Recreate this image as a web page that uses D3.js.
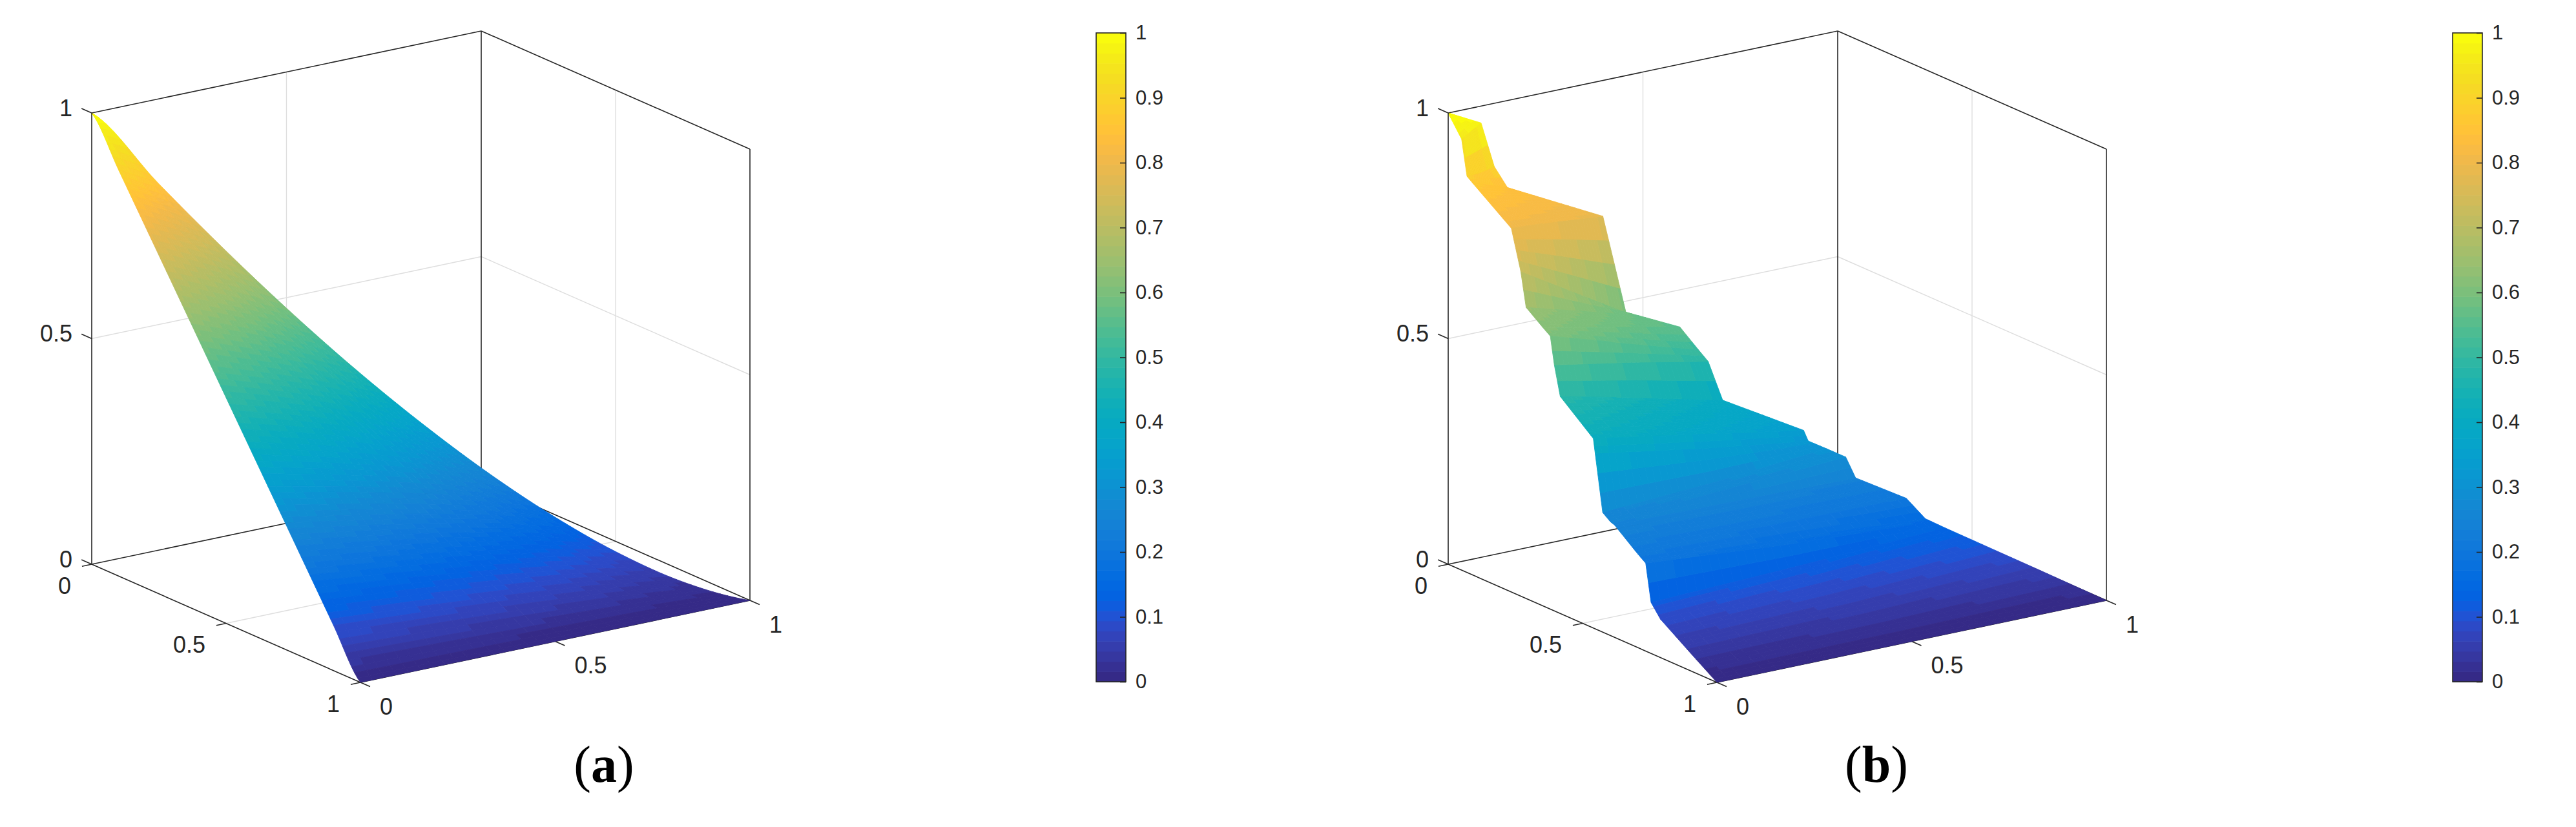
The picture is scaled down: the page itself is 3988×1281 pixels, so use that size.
<!DOCTYPE html>
<html><head><meta charset="utf-8">
<script src="https://cdn.jsdelivr.net/npm/d3@7"></script>
<style>html,body{margin:0;padding:0;background:#fff;} svg{display:block;}</style>
</head><body>
<svg id="chart" width="3988" height="1281"></svg>
<script>
// ---------------- data ----------------
const axisTicks = [0, 0.5, 1];
const colorbarTicks = [0, 0.1, 0.2, 0.3, 0.4, 0.5, 0.6, 0.7, 0.8, 0.9, 1];
const panelLetters = ["a", "b"];

// Panel (a): surface rows at y, columns at fraction s = x / y (domain x <= y)
const surfA_y = [0, 0.1, 0.2, 0.3, 0.4, 0.5, 0.6, 0.7, 0.8, 0.9, 1];
const surfA_s = [0, 0.25, 0.5, 0.75, 1];
const surfA_z = [
  [1.00, 1.00, 1.00, 1.00, 1.00],
  [0.90, 0.889, 0.877, 0.866, 0.854],
  [0.80, 0.780, 0.759, 0.738, 0.716],
  [0.70, 0.673, 0.645, 0.616, 0.586],
  [0.60, 0.569, 0.537, 0.502, 0.465],
  [0.50, 0.468, 0.433, 0.395, 0.354],
  [0.40, 0.369, 0.335, 0.297, 0.253],
  [0.30, 0.272, 0.242, 0.207, 0.164],
  [0.20, 0.179, 0.155, 0.126, 0.089],
  [0.10, 0.088, 0.074, 0.057, 0.032],
  [0, 0, 0, 0, 0]
];

// Panel (b): stepped surface, same layout
const surfB_y = [0, 0.05, 0.07, 0.09, 0.235, 0.27, 0.29, 0.352, 0.38, 0.395, 0.417, 0.54, 0.547,
                 0.575, 0.604, 0.619, 0.696, 0.725, 0.735, 0.755, 0.79, 0.9, 1];
const surfB_s = [0, 0.5, 1];
const surfB_z = [
  [1.00, 1.00, 1.00],
  [0.955, 0.97, 0.982],
  [0.878, 0.88, 0.887],
  [0.869, 0.855, 0.842],
  [0.806, 0.80, 0.79],
  [0.72, 0.65, 0.58],
  [0.645, 0.61, 0.574],
  [0.617, 0.585, 0.554],
  [0.605, 0.555, 0.506],
  [0.545, 0.515, 0.481],
  [0.481, 0.44, 0.397],
  [0.42, 0.38, 0.34],
  [0.389, 0.35, 0.317],
  [0.265, 0.28, 0.302],
  [0.252, 0.27, 0.286],
  [0.249, 0.245, 0.241],
  [0.212, 0.205, 0.202],
  [0.199, 0.18, 0.159],
  [0.195, 0.17, 0.153],
  [0.113, 0.125, 0.141],
  [0.085, 0.10, 0.121],
  [0.040, 0.045, 0.058],
  [0, 0, 0]
];

// parula colormap (64)
const parula = [
[0.2081,0.1663,0.5292],[0.2116,0.1898,0.5777],[0.2123,0.2138,0.6270],[0.2081,0.2386,0.6771],
[0.1959,0.2645,0.7279],[0.1707,0.2919,0.7792],[0.1253,0.3242,0.8303],[0.0591,0.3598,0.8683],
[0.0117,0.3875,0.8820],[0.0060,0.4086,0.8828],[0.0165,0.4266,0.8786],[0.0329,0.4430,0.8720],
[0.0498,0.4586,0.8641],[0.0629,0.4737,0.8554],[0.0723,0.4887,0.8467],[0.0779,0.5040,0.8384],
[0.0793,0.5200,0.8312],[0.0749,0.5375,0.8263],[0.0641,0.5570,0.8240],[0.0488,0.5772,0.8228],
[0.0343,0.5966,0.8199],[0.0265,0.6137,0.8135],[0.0239,0.6287,0.8038],[0.0231,0.6418,0.7913],
[0.0228,0.6535,0.7768],[0.0267,0.6642,0.7607],[0.0384,0.6743,0.7436],[0.0590,0.6838,0.7254],
[0.0843,0.6928,0.7062],[0.1133,0.7015,0.6859],[0.1453,0.7098,0.6646],[0.1801,0.7177,0.6424],
[0.2178,0.7250,0.6193],[0.2586,0.7317,0.5954],[0.3022,0.7376,0.5712],[0.3482,0.7424,0.5473],
[0.3953,0.7459,0.5244],[0.4420,0.7481,0.5033],[0.4871,0.7491,0.4840],[0.5300,0.7491,0.4661],
[0.5709,0.7485,0.4494],[0.6099,0.7473,0.4337],[0.6473,0.7456,0.4188],[0.6834,0.7435,0.4044],
[0.7184,0.7411,0.3905],[0.7525,0.7384,0.3768],[0.7858,0.7356,0.3633],[0.8185,0.7327,0.3498],
[0.8507,0.7299,0.3360],[0.8824,0.7274,0.3217],[0.9139,0.7258,0.3063],[0.9450,0.7261,0.2886],
[0.9739,0.7314,0.2666],[0.9938,0.7455,0.2403],[0.9990,0.7653,0.2164],[0.9955,0.7861,0.1967],
[0.9880,0.8066,0.1794],[0.9789,0.8271,0.1633],[0.9697,0.8481,0.1475],[0.9626,0.8705,0.1309],
[0.9589,0.8949,0.1132],[0.9598,0.9218,0.0948],[0.9661,0.9514,0.0755],[0.9763,0.9831,0.0538]
];

// ---------------- layout ----------------
const svg = d3.select("#chart");
const AX = "#262626", GRID = "#dedede";
const FONT = "'Liberation Sans', Arial, Helvetica, sans-serif";
const panelOffsets = [0, 2100];
const ORIGIN = [142, 874];
const EX = [603, -127], EY = [416, 183], EZ = [0, -699];
const LEN = 732.6, SIN_EL = 0.305, COS_EL = 0.952;

const xS = d3.scaleLinear().domain([0, 1]).range([0, 1]);
const yS = d3.scaleLinear().domain([0, 1]).range([0, 1]);
const zS = d3.scaleLinear().domain([0, 1]).range([0, 1]);
const colors = parula.map(c => d3.rgb(c[0]*255, c[1]*255, c[2]*255).formatHex());
const cScale = d3.scaleQuantize().domain([0, 1]).range(colors);

function proj(off, x, y, z) {
  const X = xS(x), Y = yS(y), Z = zS(z);
  return [ORIGIN[0] + off + X*EX[0] + Y*EY[0] + Z*EZ[0],
          ORIGIN[1] + X*EX[1] + Y*EY[1] + Z*EZ[1]];
}
function nearness(x, y, z) {
  const X = xS(x), Y = yS(y), Z = zS(z);
  return ((X*EX[1] + Y*EY[1]) / (LEN*SIN_EL)) * COS_EL + Z*SIN_EL;
}
const line = d3.line();

// Catmull-Rom between row values (render-time smoothing, passes through data)
function cr(p0, p1, p2, p3, u) {
  return 0.5 * (2*p1 + (-p0 + p2)*u + (2*p0 - 5*p1 + 4*p2 - p3)*u*u + (-p0 + 3*p1 - 3*p2 + p3)*u*u*u);
}

function drawPanel(idx, rowsY, colsS, zs, smooth) {
  const off = panelOffsets[idx];
  const g = svg.append("g");
  const seg = (a, b, color, w) => g.append("path")
    .attr("d", line([proj(off, ...a), proj(off, ...b)]))
    .attr("stroke", color).attr("stroke-width", w).attr("fill", "none");

  // grid lines
  axisTicks.forEach(t => {
    if (t === 0 || t === 1) return;
    seg([t, 0, 0], [t, 0, 1], GRID, 1.4);
    seg([0, 0, t], [1, 0, t], GRID, 1.4);
    seg([1, t, 0], [1, t, 1], GRID, 1.4);
    seg([1, 0, t], [1, 1, t], GRID, 1.4);
    seg([t, 0, 0], [t, 1, 0], GRID, 1.4);
    seg([0, t, 0], [1, t, 0], GRID, 1.4);
  });
  // back box edges
  seg([0,0,0],[1,0,0], AX, 1.6);
  seg([1,0,0],[1,0,1], AX, 1.6);
  seg([1,0,0],[1,1,0], AX, 1.6);
  seg([0,0,0],[0,1,0], AX, 1.6);
  seg([0,1,0],[1,1,0], AX, 1.6);

  // ticks
  axisTicks.forEach(t => {
    const pz = proj(off, 0, 0, t);
    g.append("line").attr("x1", pz[0]).attr("y1", pz[1])
      .attr("x2", pz[0] - 0.038*EY[0]).attr("y2", pz[1] - 0.038*EY[1])
      .attr("stroke", AX).attr("stroke-width", 1.6);
    g.append("text").attr("x", pz[0] - 30).attr("y", pz[1] - 8)
      .attr("text-anchor", "end").attr("dominant-baseline", "central")
      .attr("font-family", FONT).attr("font-size", 36).attr("fill", AX).text(String(t));
    const py = proj(off, 0, t, 0);
    g.append("line").attr("x1", py[0]).attr("y1", py[1])
      .attr("x2", py[0] - 0.025*EX[0]).attr("y2", py[1] - 0.025*EX[1])
      .attr("stroke", AX).attr("stroke-width", 1.6);
    g.append("text").attr("x", py[0] - 32).attr("y", py[1] + 33)
      .attr("text-anchor", "end").attr("dominant-baseline", "central")
      .attr("font-family", FONT).attr("font-size", 36).attr("fill", AX).text(String(t));
    const px = proj(off, t, 1, 0);
    g.append("line").attr("x1", px[0]).attr("y1", px[1])
      .attr("x2", px[0] + 0.036*EY[0]).attr("y2", px[1] + 0.036*EY[1])
      .attr("stroke", AX).attr("stroke-width", 1.6);
    g.append("text").attr("x", px[0] + 30).attr("y", px[1] + 37)
      .attr("text-anchor", "start").attr("dominant-baseline", "central")
      .attr("font-family", FONT).attr("font-size", 36).attr("fill", AX).text(String(t));
  });

  // surface
  const nR = rowsY.length;
  const rowZ = (i, j, u) => {
    if (!smooth) return zs[i][j] + u * (zs[i+1][j] - zs[i][j]);
    const p0 = zs[Math.max(0, i-1)][j], p1 = zs[i][j], p2 = zs[i+1][j], p3 = zs[Math.min(nR-1, i+2)][j];
    return cr(p0, p1, p2, p3, u);
  };
  const quads = [];
  const nv = Math.max(4, Math.round(32 / (colsS.length - 1)));
  for (let i = 0; i < nR - 1; i++) {
    const nu = Math.max(2, Math.ceil((rowsY[i+1] - rowsY[i]) * 90));
    for (let j = 0; j < colsS.length - 1; j++) {
      const P = (u, v) => {
        const y = rowsY[i] + u * (rowsY[i+1] - rowsY[i]);
        const s = colsS[j] + v * (colsS[j+1] - colsS[j]);
        const z = (1-v)*rowZ(i, j, u) + v*rowZ(i, j+1, u);
        return [s * y, y, z];
      };
      for (let a = 0; a < nu; a++) for (let b = 0; b < nv; b++) {
        const c = [P(a/nu, b/nv), P(a/nu, (b+1)/nv), P((a+1)/nu, (b+1)/nv), P((a+1)/nu, b/nv)];
        const m = P((a+0.5)/nu, (b+0.5)/nv);
        quads.push({pts: c.map(p => proj(off, ...p)), z: m[2], d: nearness(...m)});
      }
    }
  }
  quads.sort((p, q) => p.d - q.d);
  g.append("g").selectAll("path").data(quads).join("path")
    .attr("d", q => line(q.pts) + "Z")
    .attr("fill", q => cScale(q.z))
    .attr("stroke", q => cScale(q.z))
    .attr("stroke-width", 0.9)
    .attr("stroke-linejoin", "round");

  // front/top box edges
  seg([0,0,0],[0,0,1], AX, 1.6);
  seg([0,0,1],[1,0,1], AX, 1.6);
  seg([1,0,1],[1,1,1], AX, 1.6);
  seg([1,1,0],[1,1,1], AX, 1.6);

  // colorbar
  const cbX = 1697 + off, cbW = 46;
  const cbY = d3.scaleLinear().domain([0, 1]).range([1056, 51]);
  const cb = svg.append("g");
  cb.selectAll("rect").data(colors).join("rect")
    .attr("x", cbX).attr("width", cbW)
    .attr("y", (c, k) => cbY((k+1)/colors.length))
    .attr("height", (c, k) => cbY(k/colors.length) - cbY((k+1)/colors.length) + 0.6)
    .attr("fill", c => c);
  cb.append("rect").attr("x", cbX).attr("y", cbY(1)).attr("width", cbW)
    .attr("height", cbY(0) - cbY(1)).attr("fill", "none").attr("stroke", AX).attr("stroke-width", 1.6);
  const ax = cb.append("g").attr("transform", `translate(${cbX + cbW},0)`)
    .call(d3.axisRight(cbY).tickValues(colorbarTicks).tickSizeInner(-9).tickSizeOuter(0)
      .tickPadding(15).tickFormat(d => String(+d.toFixed(1))));
  ax.select(".domain").remove();
  ax.selectAll(".tick line").attr("stroke", AX).attr("stroke-width", 1.6);
  ax.selectAll(".tick text").attr("font-family", FONT).attr("font-size", 31).attr("fill", AX);

  // panel label
  const lx = idx === 0 ? 935 : 2905;
  const t = svg.append("text").attr("x", lx).attr("y", 1211).attr("text-anchor", "middle")
    .attr("font-family", "'Liberation Serif', 'Times New Roman', serif").attr("font-size", 80).attr("fill", "#000");
  t.append("tspan").text("(");
  t.append("tspan").attr("font-weight", "bold").text(panelLetters[idx]);
  t.append("tspan").text(")");
}

drawPanel(0, surfA_y, surfA_s, surfA_z, true);
drawPanel(1, surfB_y, surfB_s, surfB_z, false);
</script>
</body></html>
